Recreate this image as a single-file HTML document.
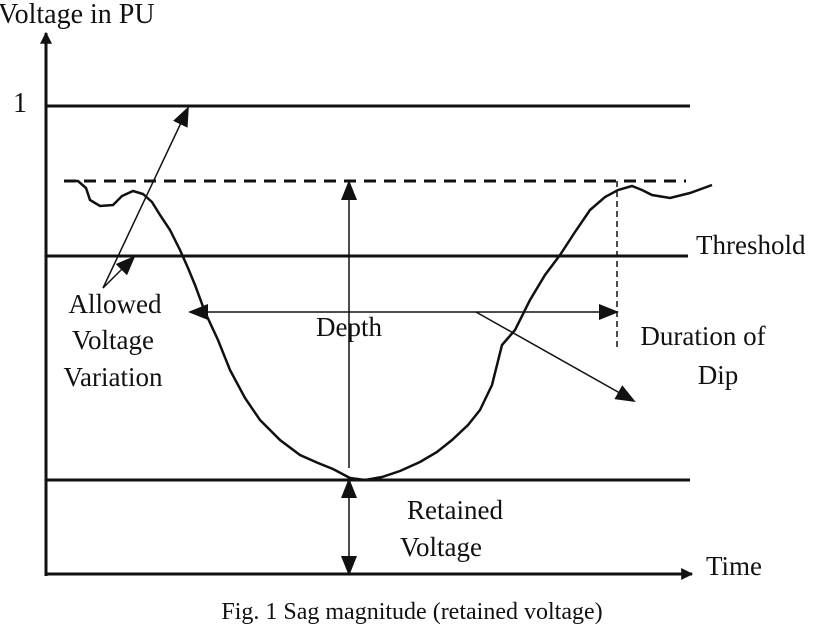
<!DOCTYPE html><html><head><style>body{margin:0;background:#fff}svg{display:block}text{font-family:"Liberation Serif",serif;fill:#111}</style></head><body>
<svg width="824" height="635" viewBox="0 0 824 635" xmlns="http://www.w3.org/2000/svg">
<defs><marker id="a" viewBox="0 0 10 10" refX="9" refY="5" markerWidth="14" markerHeight="12" orient="auto-start-reverse" markerUnits="userSpaceOnUse"><path d="M0,0L10,5L0,10z" fill="#111"/></marker>
<marker id="b" viewBox="0 0 10 10" refX="9" refY="5" markerWidth="20" markerHeight="20" orient="auto-start-reverse" markerUnits="userSpaceOnUse"><path d="M0,1L10,5L0,9z" fill="#111"/></marker></defs>
<g stroke="#111" fill="none">
<line x1="46" y1="576" x2="46" y2="33" stroke-width="3" marker-end="url(#a)"/>
<line x1="45" y1="574" x2="692" y2="574" stroke-width="3" marker-end="url(#a)"/>
<line x1="46" y1="106" x2="690" y2="106" stroke-width="3"/>
<line x1="64" y1="181" x2="686" y2="181" stroke-width="3" stroke-dasharray="12,8"/>
<line x1="46" y1="256" x2="688" y2="256" stroke-width="3"/>
<line x1="46" y1="480" x2="690" y2="480" stroke-width="3"/>
<line x1="617" y1="181" x2="617" y2="350" stroke-width="1.5" stroke-dasharray="6,4"/>
<line x1="349" y1="468" x2="349" y2="182" stroke-width="1.5" marker-end="url(#b)"/>
<line x1="349" y1="480" x2="349" y2="574" stroke-width="1.5" marker-start="url(#b)" marker-end="url(#b)"/>
<line x1="190" y1="312" x2="617" y2="312" stroke-width="1.5" marker-start="url(#b)" marker-end="url(#b)"/>
<line x1="476" y1="312" x2="634" y2="401" stroke-width="1.5" marker-end="url(#b)"/>
<line x1="103" y1="288" x2="188" y2="108" stroke-width="1.5" marker-end="url(#b)"/>
<line x1="103" y1="288" x2="134" y2="257" stroke-width="1.5" marker-end="url(#b)"/>
<polyline stroke-width="2.5" points="64,181 78,181 86,188 90,200 100,206 113,205 122,196 133,191 143,194 152,202 160,215 170,230 180,250 188,268 195,285 205,312 218,340 230,370 245,398 260,420 280,440 300,455 318,463 333,469 350,478 365,480 382,477 400,471 420,462 437,452 452,440 468,425 480,410 492,385 502,345 515,330 530,300 545,275 560,255 575,232 590,210 605,197 618,190 632,186 642,190 652,195 670,198 690,193 712,185"/>
</g>
<text x="-2" y="23" font-size="28">Voltage in PU</text>
<text x="13" y="112" font-size="28">1</text>
<text x="696" y="254" font-size="27">Threshold</text>
<text x="115" y="313" font-size="27" text-anchor="middle">Allowed</text>
<text x="113" y="349" font-size="27" text-anchor="middle">Voltage</text>
<text x="113" y="386" font-size="27" text-anchor="middle">Variation</text>
<text x="349" y="336" font-size="27" text-anchor="middle">Depth</text>
<text x="703" y="345" font-size="27" text-anchor="middle">Duration of</text>
<text x="718" y="384" font-size="27" text-anchor="middle">Dip</text>
<text x="455" y="519" font-size="27" text-anchor="middle">Retained</text>
<text x="441" y="556" font-size="27" text-anchor="middle">Voltage</text>
<text x="706" y="575" font-size="27">Time</text>
<text x="412" y="619" font-size="24" text-anchor="middle">Fig. 1 Sag magnitude (retained voltage)</text>
</svg></body></html>
